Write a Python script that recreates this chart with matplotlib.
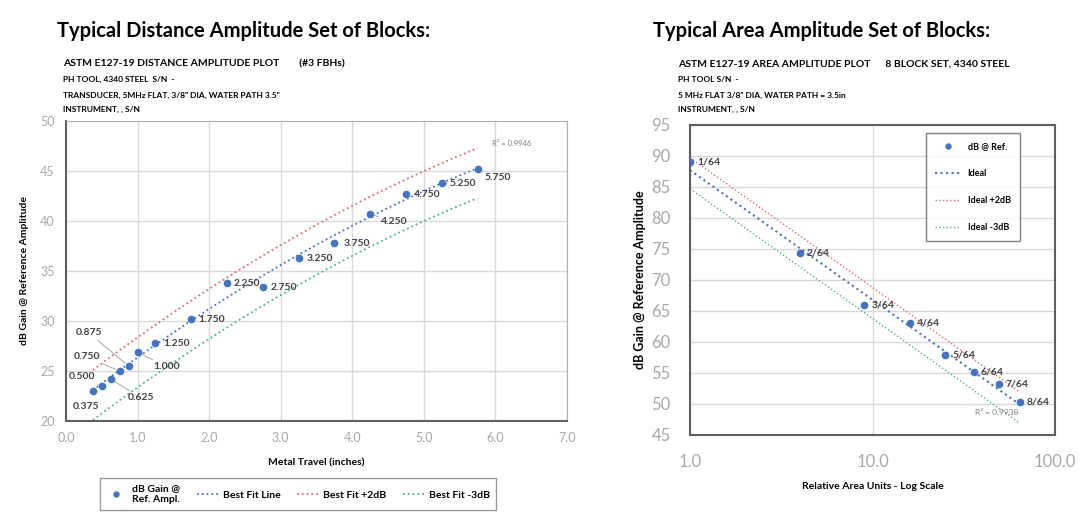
import matplotlib
matplotlib.use('Agg')
import matplotlib.pyplot as plt
import matplotlib.ticker as mticker
import numpy as np

plt.rcParams['font.family'] = ['Lato', 'DejaVu Sans']

# distance amplitude data (metal travel in inches vs dB gain)
travel = [0.375, 0.500, 0.625, 0.750, 0.875, 1.000, 1.250, 1.750,
          2.250, 2.750, 3.250, 3.750, 4.250, 4.750, 5.250, 5.750]
dist_db = [23.0, 23.5, 24.2, 25.0, 25.5, 26.9, 27.8, 30.2,
           33.8, 33.4, 36.3, 37.8, 40.7, 42.7, 43.8, 45.2]
travel_labels = ['%.3f' % t for t in travel]
# label offsets in pixels (dx, dy) and whether a leader line is drawn
dist_offsets = [(-20, -16), (-33, 9), (17, -19), (-46, 14), (-53, 33), (16, -15),
                (8, -1), (7, -1), (7, -1), (8, -1), (8, -1), (9, -1),
                (11, -8), (8, -1), (8, -1), (7, -9)]
dist_leader = [False, True, True, True, True, True,
               False, False, False, False, False, False,
               True, False, True, True]

# area amplitude data (relative area units vs dB gain)
area = [1, 4, 9, 16, 25, 36, 49, 64]
area_db = [89.0, 74.3, 65.9, 63.1, 57.9, 55.2, 53.2, 50.4]
area_labels = ['1/64', '2/64', '3/64', '4/64', '5/64', '6/64', '7/64', '8/64']

BLUE = '#4472C4'
RED = '#E8696B'
GREEN = '#4DB38A'
GRID = '#d9d9d9'
TICK = '#a8a8a8'

fig = plt.figure(figsize=(10.8, 5.22), dpi=100)

# ---------- left: distance amplitude ----------
ax1 = fig.add_axes([0.0611, 0.1935, 0.4639, 0.5747])
x = np.array(travel)
coef = np.polyfit(x, dist_db, 2)
xs = np.linspace(x.min(), x.max(), 100)
fit = np.polyval(coef, xs)
ax1.plot(x, dist_db, 'o', color=BLUE, ms=4.5, label='dB Gain @\nRef. Ampl.', zorder=5)
ax1.plot(xs, fit, ':', color=BLUE, lw=1.3, label='Best Fit Line')
ax1.plot(xs, fit + 2, ':', color=RED, lw=1.3, label='Best Fit +2dB')
ax1.plot(xs, fit - 3, ':', color=GREEN, lw=1.3, label='Best Fit -3dB')
for xi, yi, lab, off, lead in zip(travel, dist_db, travel_labels, dist_offsets, dist_leader):
    ax1.annotate(lab, (xi, yi), xytext=off, textcoords='offset pixels',
                 fontsize=7.5, fontweight='bold', color='#404040',
                 ha='left', va='center',
                 arrowprops=dict(arrowstyle='-', color='#b0b0b0', lw=0.8,
                                 shrinkA=0, shrinkB=3) if lead else None)
ax1.text(5.95, 47.5, 'R² = 0.9946', fontsize=5.5, color='#808080')
ax1.set_xlim(0, 7)
ax1.set_ylim(20, 50)
ax1.xaxis.set_major_locator(mticker.MultipleLocator(1))
ax1.yaxis.set_major_locator(mticker.MultipleLocator(5))
ax1.xaxis.set_major_formatter(mticker.FormatStrFormatter('%.1f'))
ax1.grid(True, color=GRID, lw=1)
ax1.set_axisbelow(True)
ax1.tick_params(length=0, labelsize=9, colors=TICK, pad=8)
for side in ['top', 'right']:
    ax1.spines[side].set_color('#b0b0b0')
for side in ['left', 'bottom']:
    ax1.spines[side].set_color('#606060')
    ax1.spines[side].set_linewidth(1.5)
ax1.set_xlabel('Metal Travel (inches)', fontsize=7.5, fontweight='bold', labelpad=10)
ax1.set_ylabel('dB Gain @ Reference Amplitude', fontsize=7.5, fontweight='bold', labelpad=8)
leg1 = fig.legend(*ax1.get_legend_handles_labels(), loc='center',
                  bbox_to_anchor=(0.276, 0.0536), ncol=4, fontsize=7.5,
                  frameon=True, fancybox=False, edgecolor='#808080',
                  handlelength=2.0, handletextpad=0.5, columnspacing=1.6,
                  borderpad=0.6, markerscale=0.8)
for t in leg1.get_texts():
    t.set_fontweight('bold')

fig.text(0.053, 0.94, 'Typical Distance Amplitude Set of Blocks:', fontsize=14.5, fontweight='bold', va='center')
fig.text(0.058, 0.877, 'ASTM E127-19 DISTANCE AMPLITUDE PLOT        (#3 FBHs)', fontsize=7.5, fontweight='bold', va='center')
fig.text(0.058, 0.847, 'PH TOOL, 4340 STEEL  S/N  -', fontsize=6, fontweight='bold', va='center')
fig.text(0.058, 0.818, 'TRANSDUCER, 5MHz FLAT, 3/8" DIA, WATER PATH 3.5"', fontsize=6, fontweight='bold', va='center')
fig.text(0.058, 0.791, 'INSTRUMENT, , S/N', fontsize=6, fontweight='bold', va='center')

# ---------- right: area amplitude ----------
ax2 = fig.add_axes([0.6389, 0.1667, 0.338, 0.5939])
la = np.log10(area)
c2 = np.polyfit(la, area_db, 1)
xa = np.array([1, 64])
ideal = np.polyval(c2, np.log10(xa))
ax2.plot(area, area_db, 'o', color=BLUE, ms=4.5, label='dB @ Ref.', zorder=5)
ax2.plot(xa, ideal, ':', color=BLUE, lw=1.5, label='Ideal')
ax2.plot(xa, ideal + 2, ':', color=RED, lw=1.0, label='Ideal +2dB')
ax2.plot(xa, ideal - 3, ':', color=GREEN, lw=1.0, label='Ideal -3dB')
for xi, yi, lab in zip(area, area_db, area_labels):
    ax2.annotate(lab, (xi, yi), xytext=(7, 0), textcoords='offset pixels',
                 fontsize=7.5, fontweight='bold', color='#404040', ha='left', va='center')
ax2.text(48, 48.3, 'R² = 0.9938', fontsize=6, color='#808080', ha='center')
ax2.set_xscale('log')
ax2.set_xlim(1, 100)
ax2.set_ylim(45, 95)
ax2.yaxis.set_major_locator(mticker.MultipleLocator(5))
ax2.xaxis.set_major_formatter(mticker.FormatStrFormatter('%.1f'))
ax2.xaxis.set_minor_locator(mticker.NullLocator())
ax2.grid(True, color=GRID, lw=1)
ax2.set_axisbelow(True)
ax2.tick_params(length=0, labelsize=12, colors=TICK, pad=14)
for s in ax2.spines.values():
    s.set_color('#606060')
    s.set_linewidth(1.5)
ax2.set_xlabel('Relative Area Units - Log Scale', fontsize=7.5, fontweight='bold', labelpad=8)
ax2.set_ylabel('dB Gain @ Reference Amplitude', fontsize=9, fontweight='bold', labelpad=4)
leg2 = ax2.legend(loc='center', bbox_to_anchor=(0.775, 0.80), fontsize=6.5,
                  frameon=True, fancybox=False, edgecolor='#606060',
                  labelspacing=2.0, handlelength=2.8, borderpad=1.0, markerscale=0.8)
for t in leg2.get_texts():
    t.set_fontweight('bold')

fig.text(0.605, 0.94, 'Typical Area Amplitude Set of Blocks:', fontsize=14.5, fontweight='bold', va='center')
fig.text(0.628, 0.877, 'ASTM E127-19 AREA AMPLITUDE PLOT      8 BLOCK SET, 4340 STEEL', fontsize=7.5, fontweight='bold', va='center')
fig.text(0.628, 0.847, 'PH TOOL S/N  -', fontsize=6, fontweight='bold', va='center')
fig.text(0.628, 0.818, '5 MHz FLAT 3/8" DIA, WATER PATH = 3.5in', fontsize=6, fontweight='bold', va='center')
fig.text(0.628, 0.791, 'INSTRUMENT, , S/N', fontsize=6, fontweight='bold', va='center')

fig.savefig('out.png', dpi=100)
